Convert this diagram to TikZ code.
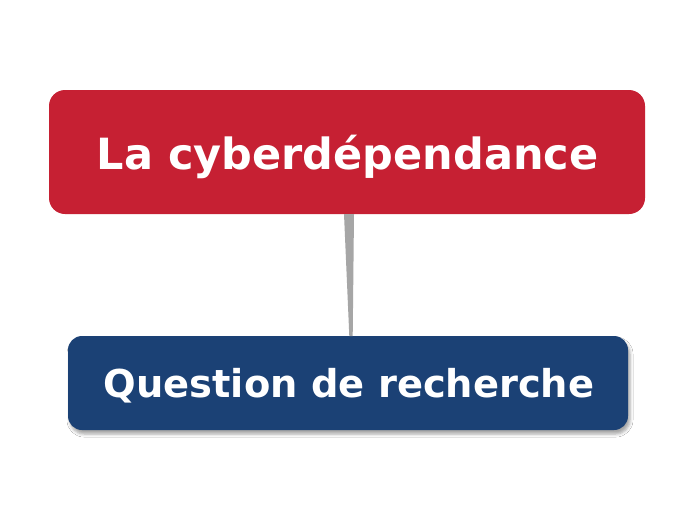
\documentclass[tikz,border=0pt]{standalone}
\usepackage{fontspec}
\setmainfont{DejaVu Sans}
\usetikzlibrary{shadows.blur}
\definecolor{topred}{HTML}{C62033}
\definecolor{subblue}{HTML}{1B4175}
\definecolor{linkgray}{HTML}{A6A6A6}
\tikzset{
  boxshape/.style={rectangle, inner sep=0pt, outer sep=0pt},
  boxtext/.style={text=white, inner sep=0pt, anchor=base},
}
\begin{document}
\begin{tikzpicture}[x=1pt,y=-1pt]
\useasboundingbox (0,0) rectangle (696,520);
\fill[white] (0,0) rectangle (696,520);
% bottom box
\node[boxshape, fill=subblue, rounded corners=14pt, minimum width=560pt, minimum height=94pt,
  blur shadow={shadow xshift=2pt, shadow yshift=-4pt, shadow blur radius=3pt, shadow opacity=35}] (sub) at (348,383) {};
% top box
\node[boxshape, fill=topred, rounded corners=16pt, minimum width=596pt, minimum height=124pt] (top) at (347,152) {};
% connector
\fill[linkgray] ([xshift=-3pt]top.south) -- ([xshift=7pt]top.south) -- ([xshift=4.7pt]sub.north) -- ([xshift=1.3pt]sub.north) -- cycle;
\node[boxtext, font=\fontsize{43}{50}\selectfont\bfseries] (toplabel) at (347.5,169) {La cyberdépendance};
\node[boxtext, font=\fontsize{38.4}{46}\selectfont\bfseries] (sublabel) at (349,397) {Question de recherche};
\end{tikzpicture}
\end{document}
